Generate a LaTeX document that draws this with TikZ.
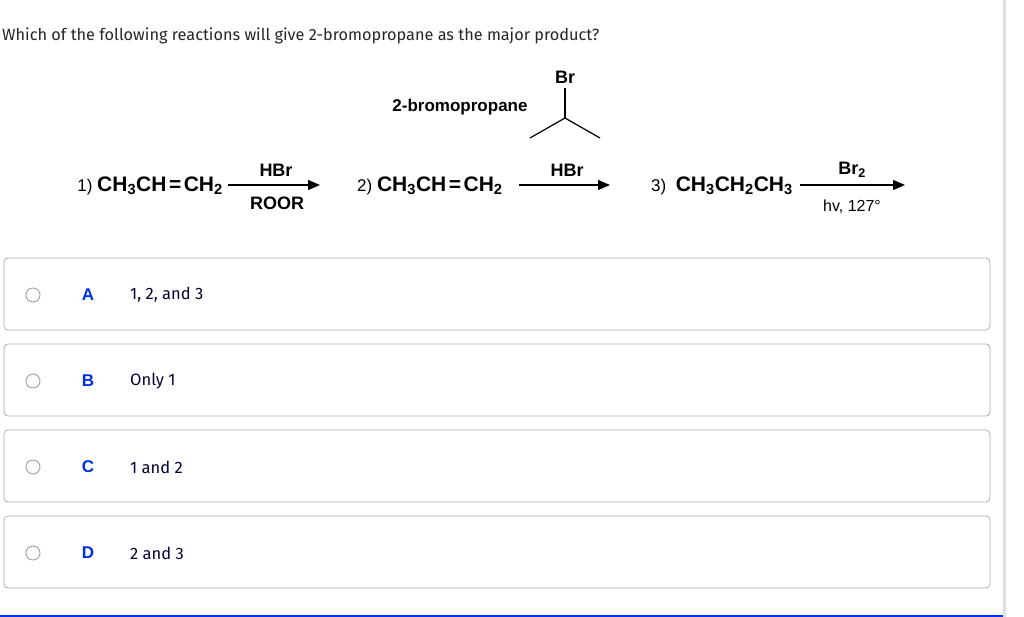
\documentclass[tikz,border=0pt]{standalone}
\usepackage{fontspec}
\setmainfont{Fira Sans}
\newfontfamily\chem{Liberation Sans}
\newcommand{\dbl}{\kern2.5pt\raisebox{0.5pt}{=}\kern2.5pt}
\begin{document}
\begin{tikzpicture}[x=1pt,y=-1pt,
  chemtxt/.style={font=\chem\bfseries\fontsize{18}{20}\selectfont,inner sep=0pt},
  rxn/.style={-{Triangle[length=12pt,width=10pt]},line width=1.3pt},
  optbox/.style={draw=black!30!blue!10!gray!60,rounded corners=4pt,line width=0.8pt},
  radio/.style={circle,draw=gray!70,line width=1pt,minimum size=14pt,inner sep=0pt},
  letter/.style={font=\chem\bfseries\fontsize{17}{19}\selectfont,text=blue!80!cyan!90!black,inner sep=0pt},
  opttxt/.style={font=\fontsize{16.5}{18}\selectfont,text=black!80!blue,anchor=west,inner sep=0pt}]
\usetikzlibrary{arrows.meta}
\useasboundingbox (0,0) rectangle (1024,617);
\fill[white] (0,0) rectangle (1024,617);
\fill[black!12] (1003,0) rectangle (1006,617);
\draw[blue!80!cyan,line width=2pt] (0,615.5) -- (1003,615.5);
\node[anchor=west,inner sep=0pt,font=\fontsize{16.3}{18}\selectfont,text=black!85] (q) at (2,36) {Which of the following reactions will give 2-bromopropane as the major product?};
% product
\node[chemtxt,font=\chem\bfseries\fontsize{17}{19}\selectfont] (lbl) at (460,107) {2-bromopropane};
\node[chemtxt] (br) at (565,77) {Br};
\coordinate (c) at (565,118);
\coordinate (l) at (530,138);
\coordinate (r) at (600,138);
\draw[line width=1.2pt] (br.south) ++(0,5) -- (c);
\draw[line width=1.2pt] (l) -- (c) -- (r);
% reactions
\node[chemtxt,anchor=east] (r1) at (223,186) {\mdseries\fontsize{17}{18}\selectfont 1)\ \bfseries\fontsize{21}{22}\selectfont CH\textsubscript{3}CH\dbl CH\textsubscript{2}};
\coordinate (a1s) at (228,185); \coordinate (a1e) at (320,185);
\draw[rxn] (a1s) -- (a1e);
\node[chemtxt] (hbr1) at (276,170) {HBr};
\node[chemtxt] (roor) at (277,203) {ROOR};
\node[chemtxt,anchor=west] (r2) at (357,186) {\mdseries\fontsize{17}{18}\selectfont 2)\ \bfseries\fontsize{21}{22}\selectfont CH\textsubscript{3}CH\dbl CH\textsubscript{2}};
\coordinate (a2s) at (519,185); \coordinate (a2e) at (610,185);
\draw[rxn] (a2s) -- (a2e);
\node[chemtxt] (hbr2) at (567,170) {HBr};
\node[chemtxt,anchor=west] (r3) at (651,186) {\mdseries\fontsize{17}{18}\selectfont 3)\ \ \bfseries\fontsize{21}{22}\selectfont CH\textsubscript{3}CH\textsubscript{2}CH\textsubscript{3}};
\coordinate (a3s) at (800,185); \coordinate (a3e) at (905,185);
\draw[rxn] (a3s) -- (a3e);
\node[chemtxt] (br2) at (852,170) {Br\textsubscript{2}};
\node[chemtxt,font=\chem\fontsize{16}{18}\selectfont] (hv) at (852,207) {hv, 127°};
% options
\foreach \y/\L/\T [count=\i] in {258/A/{1, 2, and 3},344/B/{Only 1},430/C/{1 and 2},516/D/{2 and 3}}{
  \draw[optbox] (4,\y) rectangle (990,\y+72);
  \node[radio] (rad\i) at (33,\y+37) {};
  \node[letter] (let\i) at (88,\y+37) {\L};
  \node[opttxt] (txt\i) at (130,\y+37) {\T};
}
\end{tikzpicture}
\end{document}
